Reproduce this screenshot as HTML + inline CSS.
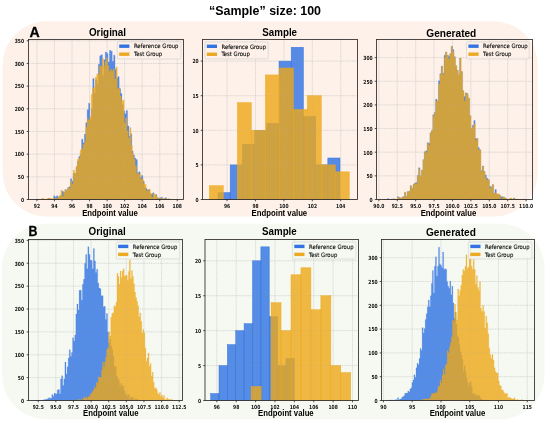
<!DOCTYPE html>
<html><head><meta charset="utf-8"><title>Sample size: 100</title>
<style>
html,body{margin:0;padding:0;background:#fff}
svg{display:block}
.tk text{font-family:"DejaVu Sans","Liberation Sans",sans-serif;font-weight:bold;font-size:5.6px;fill:#111}
.lg{font-family:"DejaVu Sans","Liberation Sans",sans-serif;font-size:6px;fill:#000;stroke:#000;stroke-width:0.1px}
.ti{font-family:"Liberation Sans",sans-serif;font-weight:bold;font-size:10.2px;fill:#000}
.xl{font-family:"Liberation Sans",sans-serif;font-weight:bold;font-size:8.2px;fill:#000}
.mt{font-family:"Liberation Sans",sans-serif;font-weight:bold;font-size:12.8px;fill:#000}
.pl{font-family:"Liberation Sans",sans-serif;font-weight:bold;font-size:14.4px;fill:#000;stroke:#000;stroke-width:0.3px}
</style></head><body>
<svg width="550" height="426" viewBox="0 0 550 426">
<rect width="550" height="426" fill="#ffffff"/>
<rect x="2.5" y="21.3" width="535.3" height="195.2" rx="44" fill="#fdf1e9"/>
<rect x="2" y="223.8" width="542.5" height="195.4" rx="44" fill="#f5f9f1"/>
<text class="mt" x="265" y="15" text-anchor="middle" textLength="112" lengthAdjust="spacingAndGlyphs">“Sample” size: 100</text>
<text class="pl" transform="translate(29.6 36.8) scale(0.97 1)" style="font-size:14.6px">A</text>
<text class="pl" transform="translate(28.6 236.3) scale(0.86 1)" style="font-size:14.4px">B</text>
<g>
<g stroke="#b9b9b9" stroke-width="0.5" stroke-dasharray="1.1 0.7" opacity="0.75">
<line x1="36.92" x2="36.92" y1="39.5" y2="199.5"/>
<line x1="54.46" x2="54.46" y1="39.5" y2="199.5"/>
<line x1="72.01" x2="72.01" y1="39.5" y2="199.5"/>
<line x1="89.55" x2="89.55" y1="39.5" y2="199.5"/>
<line x1="107.10" x2="107.10" y1="39.5" y2="199.5"/>
<line x1="124.64" x2="124.64" y1="39.5" y2="199.5"/>
<line x1="142.18" x2="142.18" y1="39.5" y2="199.5"/>
<line x1="159.73" x2="159.73" y1="39.5" y2="199.5"/>
<line x1="177.27" x2="177.27" y1="39.5" y2="199.5"/>
<line x1="28.5" x2="183.5" y1="199.50" y2="199.50"/>
<line x1="28.5" x2="183.5" y1="176.82" y2="176.82"/>
<line x1="28.5" x2="183.5" y1="154.15" y2="154.15"/>
<line x1="28.5" x2="183.5" y1="131.47" y2="131.47"/>
<line x1="28.5" x2="183.5" y1="108.80" y2="108.80"/>
<line x1="28.5" x2="183.5" y1="86.12" y2="86.12"/>
<line x1="28.5" x2="183.5" y1="63.45" y2="63.45"/>
<line x1="28.5" x2="183.5" y1="40.78" y2="40.78"/>
</g>
<path d="M36.92 199.50 L36.92 199.05 L38.32 199.05 L38.32 199.50 L39.71 199.50 L39.71 199.50 L41.11 199.50 L41.11 199.50 L42.50 199.50 L42.50 199.50 L43.89 199.50 L43.89 199.50 L45.29 199.50 L45.29 199.50 L46.68 199.50 L46.68 199.05 L48.08 199.05 L48.08 198.14 L49.47 198.14 L49.47 199.05 L50.87 199.05 L50.87 199.05 L52.26 199.05 L52.26 199.50 L53.66 199.50 L53.66 195.87 L55.05 195.87 L55.05 197.23 L56.45 197.23 L56.45 195.87 L57.84 195.87 L57.84 197.23 L59.24 197.23 L59.24 196.33 L60.63 196.33 L60.63 194.97 L62.03 194.97 L62.03 191.34 L63.42 191.34 L63.42 192.24 L64.82 192.24 L64.82 189.52 L66.21 189.52 L66.21 190.43 L67.61 190.43 L67.61 187.71 L69.00 187.71 L69.00 186.80 L70.39 186.80 L70.39 178.64 L71.79 178.64 L71.79 181.36 L73.18 181.36 L73.18 173.20 L74.58 173.20 L74.58 173.65 L75.97 173.65 L75.97 167.30 L77.37 167.30 L77.37 160.95 L78.76 160.95 L78.76 156.42 L80.16 156.42 L80.16 153.70 L81.55 153.70 L81.55 139.18 L82.95 139.18 L82.95 142.81 L84.34 142.81 L84.34 134.20 L85.74 134.20 L85.74 122.86 L87.13 122.86 L87.13 109.71 L88.53 109.71 L88.53 103.36 L89.92 103.36 L89.92 119.23 L91.32 119.23 L91.32 108.80 L92.71 108.80 L92.71 78.42 L94.11 78.42 L94.11 92.93 L95.50 92.93 L95.50 79.78 L96.89 79.78 L96.89 83.86 L98.29 83.86 L98.29 64.36 L99.68 64.36 L99.68 55.74 L101.08 55.74 L101.08 54.83 L102.47 54.83 L102.47 75.69 L103.87 75.69 L103.87 59.82 L105.26 59.82 L105.26 52.11 L106.66 52.11 L106.66 53.47 L108.05 53.47 L108.05 62.09 L109.45 62.09 L109.45 50.30 L110.84 50.30 L110.84 51.21 L112.24 51.21 L112.24 61.18 L113.63 61.18 L113.63 55.29 L115.03 55.29 L115.03 69.35 L116.42 69.35 L116.42 77.96 L117.82 77.96 L117.82 76.60 L119.21 76.60 L119.21 88.39 L120.61 88.39 L120.61 93.38 L122.00 93.38 L122.00 104.27 L123.39 104.27 L123.39 111.07 L124.79 111.07 L124.79 113.79 L126.18 113.79 L126.18 110.61 L127.58 110.61 L127.58 126.03 L128.97 126.03 L128.97 136.01 L130.37 136.01 L130.37 133.74 L131.76 133.74 L131.76 150.98 L133.16 150.98 L133.16 155.06 L134.55 155.06 L134.55 158.23 L135.95 158.23 L135.95 159.59 L137.34 159.59 L137.34 172.74 L138.74 172.74 L138.74 171.84 L140.13 171.84 L140.13 177.28 L141.53 177.28 L141.53 175.46 L142.92 175.46 L142.92 181.36 L144.32 181.36 L144.32 187.26 L145.71 187.26 L145.71 188.62 L147.11 188.62 L147.11 189.98 L148.50 189.98 L148.50 189.52 L149.89 189.52 L149.89 194.06 L151.29 194.06 L151.29 194.06 L152.68 194.06 L152.68 192.70 L154.08 192.70 L154.08 198.59 L155.47 198.59 L155.47 194.51 L156.87 194.51 L156.87 197.69 L158.26 197.69 L158.26 198.14 L159.66 198.14 L159.66 197.69 L161.05 197.69 L161.05 197.23 L162.45 197.23 L162.45 199.05 L163.84 199.05 L163.84 198.59 L165.24 198.59 L165.24 197.69 L166.63 197.69 L166.63 199.05 L168.03 199.05 L168.03 199.05 L169.42 199.05 L169.42 199.50 L170.82 199.50 L170.82 199.50 L172.21 199.50 L172.21 199.50 L173.61 199.50 L173.61 199.50 L175.00 199.50 L175.00 199.50 L176.39 199.50 L176.39 199.50 Z" fill="#2d70e2" fill-opacity="0.8" stroke="#2d70e2" stroke-opacity="0.5" stroke-width="0.35" stroke-linejoin="miter"/>
<path d="M36.04 199.50 L36.04 199.50 L37.42 199.50 L37.42 199.50 L38.80 199.50 L38.80 199.50 L40.18 199.50 L40.18 199.50 L41.55 199.50 L41.55 198.14 L42.93 198.14 L42.93 198.59 L44.31 198.59 L44.31 199.05 L45.68 199.05 L45.68 199.05 L47.06 199.05 L47.06 198.59 L48.44 198.59 L48.44 198.59 L49.82 198.59 L49.82 198.14 L51.19 198.14 L51.19 198.59 L52.57 198.59 L52.57 198.14 L53.95 198.14 L53.95 198.59 L55.32 198.59 L55.32 198.59 L56.70 198.59 L56.70 198.14 L58.08 198.14 L58.08 196.78 L59.46 196.78 L59.46 195.42 L60.83 195.42 L60.83 189.98 L62.21 189.98 L62.21 196.33 L63.59 196.33 L63.59 192.24 L64.96 192.24 L64.96 189.52 L66.34 189.52 L66.34 190.43 L67.72 190.43 L67.72 187.26 L69.10 187.26 L69.10 188.16 L70.47 188.16 L70.47 180.91 L71.85 180.91 L71.85 184.08 L73.23 184.08 L73.23 170.02 L74.61 170.02 L74.61 172.74 L75.98 172.74 L75.98 165.94 L77.36 165.94 L77.36 159.14 L78.74 159.14 L78.74 158.23 L80.11 158.23 L80.11 150.07 L81.49 150.07 L81.49 148.71 L82.87 148.71 L82.87 144.17 L84.25 144.17 L84.25 141.45 L85.62 141.45 L85.62 126.94 L87.00 126.94 L87.00 119.23 L88.38 119.23 L88.38 119.68 L89.75 119.68 L89.75 116.51 L91.13 116.51 L91.13 94.29 L92.51 94.29 L92.51 87.94 L93.89 87.94 L93.89 87.03 L95.26 87.03 L95.26 77.05 L96.64 77.05 L96.64 73.88 L98.02 73.88 L98.02 74.33 L99.39 74.33 L99.39 65.72 L100.77 65.72 L100.77 66.17 L102.15 66.17 L102.15 58.46 L103.53 58.46 L103.53 65.72 L104.90 65.72 L104.90 61.18 L106.28 61.18 L106.28 57.55 L107.66 57.55 L107.66 65.72 L109.04 65.72 L109.04 71.16 L110.41 71.16 L110.41 69.35 L111.79 69.35 L111.79 70.71 L113.17 70.71 L113.17 68.89 L114.54 68.89 L114.54 78.87 L115.92 78.87 L115.92 67.08 L117.30 67.08 L117.30 88.39 L118.68 88.39 L118.68 88.39 L120.05 88.39 L120.05 96.10 L121.43 96.10 L121.43 101.09 L122.81 101.09 L122.81 100.18 L124.18 100.18 L124.18 122.86 L125.56 122.86 L125.56 117.87 L126.94 117.87 L126.94 131.02 L128.32 131.02 L128.32 137.82 L129.69 137.82 L129.69 127.39 L131.07 127.39 L131.07 145.53 L132.45 145.53 L132.45 153.70 L133.82 153.70 L133.82 159.14 L135.20 159.14 L135.20 165.94 L136.58 165.94 L136.58 173.20 L137.96 173.20 L137.96 173.65 L139.33 173.65 L139.33 173.65 L140.71 173.65 L140.71 179.09 L142.09 179.09 L142.09 179.09 L143.46 179.09 L143.46 183.63 L144.84 183.63 L144.84 184.53 L146.22 184.53 L146.22 190.88 L147.60 190.88 L147.60 190.43 L148.97 190.43 L148.97 189.07 L150.35 189.07 L150.35 193.15 L151.73 193.15 L151.73 197.23 L153.11 197.23 L153.11 193.60 L154.48 193.60 L154.48 194.51 L155.86 194.51 L155.86 195.87 L157.24 195.87 L157.24 198.14 L158.61 198.14 L158.61 198.59 L159.99 198.59 L159.99 198.14 L161.37 198.14 L161.37 198.59 L162.75 198.59 L162.75 198.59 L164.12 198.59 L164.12 198.14 L165.50 198.14 L165.50 199.50 L166.88 199.50 L166.88 199.50 L168.25 199.50 L168.25 198.59 L169.63 198.59 L169.63 199.05 L171.01 199.05 L171.01 199.50 L172.39 199.50 L172.39 199.50 L173.76 199.50 L173.76 199.50 Z" fill="#eea718" fill-opacity="0.8" stroke="#eea718" stroke-opacity="0.5" stroke-width="0.35" stroke-linejoin="miter"/>
<g stroke="#b9b9b9" stroke-width="0.5" stroke-dasharray="1.1 0.7" opacity="0.3">
<line x1="36.92" x2="36.92" y1="39.5" y2="199.5"/>
<line x1="54.46" x2="54.46" y1="39.5" y2="199.5"/>
<line x1="72.01" x2="72.01" y1="39.5" y2="199.5"/>
<line x1="89.55" x2="89.55" y1="39.5" y2="199.5"/>
<line x1="107.10" x2="107.10" y1="39.5" y2="199.5"/>
<line x1="124.64" x2="124.64" y1="39.5" y2="199.5"/>
<line x1="142.18" x2="142.18" y1="39.5" y2="199.5"/>
<line x1="159.73" x2="159.73" y1="39.5" y2="199.5"/>
<line x1="177.27" x2="177.27" y1="39.5" y2="199.5"/>
<line x1="28.5" x2="183.5" y1="199.50" y2="199.50"/>
<line x1="28.5" x2="183.5" y1="176.82" y2="176.82"/>
<line x1="28.5" x2="183.5" y1="154.15" y2="154.15"/>
<line x1="28.5" x2="183.5" y1="131.47" y2="131.47"/>
<line x1="28.5" x2="183.5" y1="108.80" y2="108.80"/>
<line x1="28.5" x2="183.5" y1="86.12" y2="86.12"/>
<line x1="28.5" x2="183.5" y1="63.45" y2="63.45"/>
<line x1="28.5" x2="183.5" y1="40.78" y2="40.78"/>
</g>
<rect x="28.5" y="39.5" width="155.00" height="160.00" fill="none" stroke="#2e2a2a" stroke-width="0.85"/>
<g stroke="#2a2626" stroke-width="0.8">
<line x1="36.92" x2="36.92" y1="199.5" y2="201.3"/>
<line x1="54.46" x2="54.46" y1="199.5" y2="201.3"/>
<line x1="72.01" x2="72.01" y1="199.5" y2="201.3"/>
<line x1="89.55" x2="89.55" y1="199.5" y2="201.3"/>
<line x1="107.10" x2="107.10" y1="199.5" y2="201.3"/>
<line x1="124.64" x2="124.64" y1="199.5" y2="201.3"/>
<line x1="142.18" x2="142.18" y1="199.5" y2="201.3"/>
<line x1="159.73" x2="159.73" y1="199.5" y2="201.3"/>
<line x1="177.27" x2="177.27" y1="199.5" y2="201.3"/>
<line x1="26.7" x2="28.5" y1="199.50" y2="199.50"/>
<line x1="26.7" x2="28.5" y1="176.82" y2="176.82"/>
<line x1="26.7" x2="28.5" y1="154.15" y2="154.15"/>
<line x1="26.7" x2="28.5" y1="131.47" y2="131.47"/>
<line x1="26.7" x2="28.5" y1="108.80" y2="108.80"/>
<line x1="26.7" x2="28.5" y1="86.12" y2="86.12"/>
<line x1="26.7" x2="28.5" y1="63.45" y2="63.45"/>
<line x1="26.7" x2="28.5" y1="40.78" y2="40.78"/>
</g>
<g class="tk">
<text transform="translate(36.92 207.70) scale(0.8 1)" text-anchor="middle">92</text>
<text transform="translate(54.46 207.70) scale(0.8 1)" text-anchor="middle">94</text>
<text transform="translate(72.01 207.70) scale(0.8 1)" text-anchor="middle">96</text>
<text transform="translate(89.55 207.70) scale(0.8 1)" text-anchor="middle">98</text>
<text transform="translate(107.10 207.70) scale(0.8 1)" text-anchor="middle">100</text>
<text transform="translate(124.64 207.70) scale(0.8 1)" text-anchor="middle">102</text>
<text transform="translate(142.18 207.70) scale(0.8 1)" text-anchor="middle">104</text>
<text transform="translate(159.73 207.70) scale(0.8 1)" text-anchor="middle">106</text>
<text transform="translate(177.27 207.70) scale(0.8 1)" text-anchor="middle">108</text>
<text transform="translate(24.00 201.80) scale(0.8 1)" text-anchor="end">0</text>
<text transform="translate(24.00 179.12) scale(0.8 1)" text-anchor="end">50</text>
<text transform="translate(24.00 156.45) scale(0.8 1)" text-anchor="end">100</text>
<text transform="translate(24.00 133.78) scale(0.8 1)" text-anchor="end">150</text>
<text transform="translate(24.00 111.10) scale(0.8 1)" text-anchor="end">200</text>
<text transform="translate(24.00 88.42) scale(0.8 1)" text-anchor="end">250</text>
<text transform="translate(24.00 65.75) scale(0.8 1)" text-anchor="end">300</text>
<text transform="translate(24.00 43.08) scale(0.8 1)" text-anchor="end">350</text>
</g>
<rect x="117.3" y="41.8" width="63.6" height="17.2" rx="1" fill="#fdf1e9" fill-opacity="0.85" stroke="#c6c6c6" stroke-width="0.5"/>
<rect x="119.20" y="44.50" width="10.2" height="3.4" fill="#2468e0" fill-opacity="0.93"/>
<rect x="119.20" y="52.50" width="10.2" height="3.4" fill="#eba313" fill-opacity="0.93"/>
<text class="lg" transform="translate(133.90 48.45) scale(0.885 1)">Reference Group</text>
<text class="lg" transform="translate(133.90 56.35) scale(0.885 1)">Test Group</text>
<text class="ti" x="107.5" y="36.4" text-anchor="middle" textLength="37.2" lengthAdjust="spacingAndGlyphs">Original</text>
<text class="xl" x="110" y="215.6" text-anchor="middle" textLength="55.6" lengthAdjust="spacingAndGlyphs">Endpoint value</text>
</g>
<g>
<g stroke="#b9b9b9" stroke-width="0.5" stroke-dasharray="1.1 0.7" opacity="0.75">
<line x1="227.08" x2="227.08" y1="39.5" y2="199.5"/>
<line x1="255.49" x2="255.49" y1="39.5" y2="199.5"/>
<line x1="283.91" x2="283.91" y1="39.5" y2="199.5"/>
<line x1="312.32" x2="312.32" y1="39.5" y2="199.5"/>
<line x1="340.74" x2="340.74" y1="39.5" y2="199.5"/>
<line x1="202.5" x2="357.5" y1="199.50" y2="199.50"/>
<line x1="202.5" x2="357.5" y1="164.90" y2="164.90"/>
<line x1="202.5" x2="357.5" y1="130.30" y2="130.30"/>
<line x1="202.5" x2="357.5" y1="95.70" y2="95.70"/>
<line x1="202.5" x2="357.5" y1="61.10" y2="61.10"/>
</g>
<g fill="#2d70e2" fill-opacity="0.8" stroke="#2d70e2" stroke-opacity="0.9" stroke-width="0.5">
<rect x="217.99" y="192.58" width="12.20" height="6.92"/>
<rect x="230.19" y="164.90" width="12.20" height="34.60"/>
<rect x="242.39" y="144.14" width="12.20" height="55.36"/>
<rect x="254.60" y="130.30" width="12.20" height="69.20"/>
<rect x="266.80" y="123.38" width="12.20" height="76.12"/>
<rect x="279.01" y="61.10" width="12.20" height="138.40"/>
<rect x="291.21" y="47.26" width="12.20" height="152.24"/>
<rect x="303.41" y="116.46" width="12.20" height="83.04"/>
<rect x="315.62" y="164.90" width="12.20" height="34.60"/>
<rect x="327.82" y="157.98" width="12.20" height="41.52"/>
</g>
<g fill="#eea718" fill-opacity="0.8" stroke="#eea718" stroke-opacity="0.9" stroke-width="0.5">
<rect x="209.32" y="185.66" width="13.99" height="13.84"/>
<rect x="237.31" y="102.62" width="13.99" height="96.88"/>
<rect x="251.30" y="130.30" width="13.99" height="69.20"/>
<rect x="265.30" y="74.94" width="13.99" height="124.56"/>
<rect x="279.29" y="68.02" width="13.99" height="131.48"/>
<rect x="293.28" y="109.54" width="13.99" height="89.96"/>
<rect x="307.28" y="95.70" width="13.99" height="103.80"/>
<rect x="321.27" y="164.90" width="13.99" height="34.60"/>
<rect x="335.27" y="171.82" width="13.99" height="27.68"/>
</g>
<g stroke="#b9b9b9" stroke-width="0.5" stroke-dasharray="1.1 0.7" opacity="0.3">
<line x1="227.08" x2="227.08" y1="39.5" y2="199.5"/>
<line x1="255.49" x2="255.49" y1="39.5" y2="199.5"/>
<line x1="283.91" x2="283.91" y1="39.5" y2="199.5"/>
<line x1="312.32" x2="312.32" y1="39.5" y2="199.5"/>
<line x1="340.74" x2="340.74" y1="39.5" y2="199.5"/>
<line x1="202.5" x2="357.5" y1="199.50" y2="199.50"/>
<line x1="202.5" x2="357.5" y1="164.90" y2="164.90"/>
<line x1="202.5" x2="357.5" y1="130.30" y2="130.30"/>
<line x1="202.5" x2="357.5" y1="95.70" y2="95.70"/>
<line x1="202.5" x2="357.5" y1="61.10" y2="61.10"/>
</g>
<rect x="202.5" y="39.5" width="155.00" height="160.00" fill="none" stroke="#2e2a2a" stroke-width="0.85"/>
<g stroke="#2a2626" stroke-width="0.8">
<line x1="227.08" x2="227.08" y1="199.5" y2="201.3"/>
<line x1="255.49" x2="255.49" y1="199.5" y2="201.3"/>
<line x1="283.91" x2="283.91" y1="199.5" y2="201.3"/>
<line x1="312.32" x2="312.32" y1="199.5" y2="201.3"/>
<line x1="340.74" x2="340.74" y1="199.5" y2="201.3"/>
<line x1="200.7" x2="202.5" y1="199.50" y2="199.50"/>
<line x1="200.7" x2="202.5" y1="164.90" y2="164.90"/>
<line x1="200.7" x2="202.5" y1="130.30" y2="130.30"/>
<line x1="200.7" x2="202.5" y1="95.70" y2="95.70"/>
<line x1="200.7" x2="202.5" y1="61.10" y2="61.10"/>
</g>
<g class="tk">
<text transform="translate(227.08 207.70) scale(0.8 1)" text-anchor="middle">96</text>
<text transform="translate(255.49 207.70) scale(0.8 1)" text-anchor="middle">98</text>
<text transform="translate(283.91 207.70) scale(0.8 1)" text-anchor="middle">100</text>
<text transform="translate(312.32 207.70) scale(0.8 1)" text-anchor="middle">102</text>
<text transform="translate(340.74 207.70) scale(0.8 1)" text-anchor="middle">104</text>
<text transform="translate(198.70 201.80) scale(0.8 1)" text-anchor="end">0</text>
<text transform="translate(198.70 167.20) scale(0.8 1)" text-anchor="end">5</text>
<text transform="translate(198.70 132.60) scale(0.8 1)" text-anchor="end">10</text>
<text transform="translate(198.70 98.00) scale(0.8 1)" text-anchor="end">15</text>
<text transform="translate(198.70 63.40) scale(0.8 1)" text-anchor="end">20</text>
</g>
<rect x="204.9" y="41.9" width="63.3" height="17.0" rx="1" fill="#fdf1e9" fill-opacity="0.85" stroke="#c6c6c6" stroke-width="0.5"/>
<rect x="206.80" y="44.60" width="10.2" height="3.4" fill="#2468e0" fill-opacity="0.93"/>
<rect x="206.80" y="52.60" width="10.2" height="3.4" fill="#eba313" fill-opacity="0.93"/>
<text class="lg" transform="translate(221.50 48.55) scale(0.885 1)">Reference Group</text>
<text class="lg" transform="translate(221.50 56.45) scale(0.885 1)">Test Group</text>
<text class="ti" x="279.7" y="36.2" text-anchor="middle" textLength="34.7" lengthAdjust="spacingAndGlyphs">Sample</text>
<text class="xl" x="279.4" y="215.6" text-anchor="middle" textLength="55.6" lengthAdjust="spacingAndGlyphs">Endpoint value</text>
</g>
<g>
<g stroke="#b9b9b9" stroke-width="0.5" stroke-dasharray="1.1 0.7" opacity="0.75">
<line x1="378.86" x2="378.86" y1="39.5" y2="199.5"/>
<line x1="397.26" x2="397.26" y1="39.5" y2="199.5"/>
<line x1="415.67" x2="415.67" y1="39.5" y2="199.5"/>
<line x1="434.07" x2="434.07" y1="39.5" y2="199.5"/>
<line x1="452.48" x2="452.48" y1="39.5" y2="199.5"/>
<line x1="470.88" x2="470.88" y1="39.5" y2="199.5"/>
<line x1="489.29" x2="489.29" y1="39.5" y2="199.5"/>
<line x1="507.69" x2="507.69" y1="39.5" y2="199.5"/>
<line x1="526.10" x2="526.10" y1="39.5" y2="199.5"/>
<line x1="376.5" x2="532.5" y1="199.50" y2="199.50"/>
<line x1="376.5" x2="532.5" y1="175.85" y2="175.85"/>
<line x1="376.5" x2="532.5" y1="152.20" y2="152.20"/>
<line x1="376.5" x2="532.5" y1="128.55" y2="128.55"/>
<line x1="376.5" x2="532.5" y1="104.90" y2="104.90"/>
<line x1="376.5" x2="532.5" y1="81.25" y2="81.25"/>
<line x1="376.5" x2="532.5" y1="57.60" y2="57.60"/>
</g>
<path d="M383.27 199.50 L383.27 199.50 L384.69 199.50 L384.69 199.50 L386.10 199.50 L386.10 199.50 L387.51 199.50 L387.51 198.55 L388.93 198.55 L388.93 199.50 L390.34 199.50 L390.34 199.03 L391.75 199.03 L391.75 199.03 L393.17 199.03 L393.17 199.03 L394.58 199.03 L394.58 199.03 L395.99 199.03 L395.99 199.50 L397.41 199.50 L397.41 196.66 L398.82 196.66 L398.82 197.61 L400.23 197.61 L400.23 198.55 L401.65 198.55 L401.65 197.13 L403.06 197.13 L403.06 196.66 L404.48 196.66 L404.48 192.41 L405.89 192.41 L405.89 196.19 L407.30 196.19 L407.30 191.46 L408.72 191.46 L408.72 191.46 L410.13 191.46 L410.13 185.78 L411.54 185.78 L411.54 188.15 L412.96 188.15 L412.96 184.36 L414.37 184.36 L414.37 182.94 L415.78 182.94 L415.78 182.47 L417.20 182.47 L417.20 175.38 L418.61 175.38 L418.61 167.81 L420.02 167.81 L420.02 175.85 L421.44 175.85 L421.44 170.17 L422.85 170.17 L422.85 159.77 L424.26 159.77 L424.26 151.73 L425.68 151.73 L425.68 150.78 L427.09 150.78 L427.09 142.74 L428.50 142.74 L428.50 143.21 L429.92 143.21 L429.92 132.81 L431.33 132.81 L431.33 130.44 L432.75 130.44 L432.75 114.83 L434.16 114.83 L434.16 112.47 L435.57 112.47 L435.57 99.22 L436.99 99.22 L436.99 100.64 L438.40 100.64 L438.40 80.78 L439.81 80.78 L439.81 73.68 L441.23 73.68 L441.23 66.11 L442.64 66.11 L442.64 73.21 L444.05 73.21 L444.05 55.24 L445.47 55.24 L445.47 51.92 L446.88 51.92 L446.88 55.24 L448.29 55.24 L448.29 56.18 L449.71 56.18 L449.71 53.82 L451.12 53.82 L451.12 46.25 L452.53 46.25 L452.53 49.56 L453.95 49.56 L453.95 56.65 L455.36 56.65 L455.36 65.64 L456.77 65.64 L456.77 70.37 L458.19 70.37 L458.19 74.63 L459.60 74.63 L459.60 58.07 L461.02 58.07 L461.02 71.79 L462.43 71.79 L462.43 90.71 L463.84 90.71 L463.84 96.39 L465.26 96.39 L465.26 93.08 L466.67 93.08 L466.67 93.55 L468.08 93.55 L468.08 98.28 L469.50 98.28 L469.50 115.78 L470.91 115.78 L470.91 128.08 L472.32 128.08 L472.32 125.24 L473.74 125.24 L473.74 120.51 L475.15 120.51 L475.15 138.48 L476.56 138.48 L476.56 138.48 L477.98 138.48 L477.98 147.47 L479.39 147.47 L479.39 149.84 L480.80 149.84 L480.80 170.65 L482.22 170.65 L482.22 165.92 L483.63 165.92 L483.63 171.59 L485.04 171.59 L485.04 174.90 L486.46 174.90 L486.46 178.22 L487.87 178.22 L487.87 179.63 L489.29 179.63 L489.29 186.26 L490.70 186.26 L490.70 187.20 L492.11 187.20 L492.11 184.84 L493.53 184.84 L493.53 192.88 L494.94 192.88 L494.94 189.57 L496.35 189.57 L496.35 194.30 L497.77 194.30 L497.77 194.30 L499.18 194.30 L499.18 195.24 L500.59 195.24 L500.59 196.66 L502.01 196.66 L502.01 196.66 L503.42 196.66 L503.42 197.13 L504.83 197.13 L504.83 198.08 L506.25 198.08 L506.25 199.50 L507.66 199.50 L507.66 199.50 L509.07 199.50 L509.07 199.03 L510.49 199.03 L510.49 198.55 L511.90 198.55 L511.90 199.50 L513.31 199.50 L513.31 198.08 L514.73 198.08 L514.73 199.03 L516.14 199.03 L516.14 199.03 L517.56 199.03 L517.56 199.50 L518.97 199.50 L518.97 199.50 L520.38 199.50 L520.38 199.50 L521.80 199.50 L521.80 199.50 L523.21 199.50 L523.21 199.03 L524.62 199.03 L524.62 199.50 Z" fill="#2d70e2" fill-opacity="0.8" stroke="#2d70e2" stroke-opacity="0.5" stroke-width="0.35" stroke-linejoin="miter"/>
<path d="M383.42 199.50 L383.42 199.50 L384.83 199.50 L384.83 199.50 L386.25 199.50 L386.25 199.50 L387.66 199.50 L387.66 199.50 L389.07 199.50 L389.07 199.50 L390.49 199.50 L390.49 199.50 L391.90 199.50 L391.90 199.50 L393.31 199.50 L393.31 198.55 L394.73 198.55 L394.73 199.50 L396.14 199.50 L396.14 199.50 L397.56 199.50 L397.56 197.13 L398.97 197.13 L398.97 197.61 L400.38 197.61 L400.38 198.55 L401.80 198.55 L401.80 197.13 L403.21 197.13 L403.21 196.66 L404.62 196.66 L404.62 191.93 L406.04 191.93 L406.04 196.19 L407.45 196.19 L407.45 191.46 L408.86 191.46 L408.86 190.99 L410.28 190.99 L410.28 185.78 L411.69 185.78 L411.69 188.15 L413.10 188.15 L413.10 184.36 L414.52 184.36 L414.52 183.42 L415.93 183.42 L415.93 183.42 L417.34 183.42 L417.34 175.85 L418.76 175.85 L418.76 168.75 L420.17 168.75 L420.17 175.85 L421.58 175.85 L421.58 170.17 L423.00 170.17 L423.00 159.77 L424.41 159.77 L424.41 151.25 L425.83 151.25 L425.83 152.67 L427.24 152.67 L427.24 142.74 L428.65 142.74 L428.65 145.11 L430.07 145.11 L430.07 132.81 L431.48 132.81 L431.48 130.44 L432.89 130.44 L432.89 115.78 L434.31 115.78 L434.31 112.47 L435.72 112.47 L435.72 101.12 L437.13 101.12 L437.13 100.17 L438.55 100.17 L438.55 84.09 L439.96 84.09 L439.96 74.16 L441.37 74.16 L441.37 66.11 L442.79 66.11 L442.79 74.16 L444.20 74.16 L444.20 57.13 L445.61 57.13 L445.61 51.92 L447.03 51.92 L447.03 55.24 L448.44 55.24 L448.44 59.02 L449.85 59.02 L449.85 53.82 L451.27 53.82 L451.27 46.25 L452.68 46.25 L452.68 51.45 L454.10 51.45 L454.10 57.13 L455.51 57.13 L455.51 65.64 L456.92 65.64 L456.92 70.37 L458.34 70.37 L458.34 74.16 L459.75 74.16 L459.75 58.07 L461.16 58.07 L461.16 71.32 L462.58 71.32 L462.58 90.71 L463.99 90.71 L463.99 101.12 L465.40 101.12 L465.40 92.60 L466.82 92.60 L466.82 94.02 L468.23 94.02 L468.23 97.81 L469.64 97.81 L469.64 115.78 L471.06 115.78 L471.06 128.08 L472.47 128.08 L472.47 126.66 L473.88 126.66 L473.88 123.82 L475.30 123.82 L475.30 140.38 L476.71 140.38 L476.71 138.48 L478.12 138.48 L478.12 149.84 L479.54 149.84 L479.54 149.84 L480.95 149.84 L480.95 171.59 L482.37 171.59 L482.37 166.39 L483.78 166.39 L483.78 171.59 L485.19 171.59 L485.19 177.74 L486.61 177.74 L486.61 180.11 L488.02 180.11 L488.02 179.63 L489.43 179.63 L489.43 188.15 L490.85 188.15 L490.85 187.20 L492.26 187.20 L492.26 184.36 L493.67 184.36 L493.67 193.35 L495.09 193.35 L495.09 192.88 L496.50 192.88 L496.50 193.82 L497.91 193.82 L497.91 193.82 L499.33 193.82 L499.33 195.24 L500.74 195.24 L500.74 199.03 L502.15 199.03 L502.15 197.13 L503.57 197.13 L503.57 197.13 L504.98 197.13 L504.98 198.08 L506.39 198.08 L506.39 199.50 L507.81 199.50 L507.81 199.50 L509.22 199.50 L509.22 198.55 L510.63 198.55 L510.63 198.08 L512.05 198.08 L512.05 199.50 L513.46 199.50 L513.46 198.08 L514.88 198.08 L514.88 199.03 L516.29 199.03 L516.29 199.50 L517.70 199.50 L517.70 199.50 L519.12 199.50 L519.12 199.50 L520.53 199.50 L520.53 199.50 L521.94 199.50 L521.94 199.50 L523.36 199.50 L523.36 199.03 L524.77 199.03 L524.77 199.50 Z" fill="#eea718" fill-opacity="0.8" stroke="#eea718" stroke-opacity="0.5" stroke-width="0.35" stroke-linejoin="miter"/>
<g stroke="#b9b9b9" stroke-width="0.5" stroke-dasharray="1.1 0.7" opacity="0.3">
<line x1="378.86" x2="378.86" y1="39.5" y2="199.5"/>
<line x1="397.26" x2="397.26" y1="39.5" y2="199.5"/>
<line x1="415.67" x2="415.67" y1="39.5" y2="199.5"/>
<line x1="434.07" x2="434.07" y1="39.5" y2="199.5"/>
<line x1="452.48" x2="452.48" y1="39.5" y2="199.5"/>
<line x1="470.88" x2="470.88" y1="39.5" y2="199.5"/>
<line x1="489.29" x2="489.29" y1="39.5" y2="199.5"/>
<line x1="507.69" x2="507.69" y1="39.5" y2="199.5"/>
<line x1="526.10" x2="526.10" y1="39.5" y2="199.5"/>
<line x1="376.5" x2="532.5" y1="199.50" y2="199.50"/>
<line x1="376.5" x2="532.5" y1="175.85" y2="175.85"/>
<line x1="376.5" x2="532.5" y1="152.20" y2="152.20"/>
<line x1="376.5" x2="532.5" y1="128.55" y2="128.55"/>
<line x1="376.5" x2="532.5" y1="104.90" y2="104.90"/>
<line x1="376.5" x2="532.5" y1="81.25" y2="81.25"/>
<line x1="376.5" x2="532.5" y1="57.60" y2="57.60"/>
</g>
<rect x="376.5" y="39.5" width="156.00" height="160.00" fill="none" stroke="#2e2a2a" stroke-width="0.85"/>
<g stroke="#2a2626" stroke-width="0.8">
<line x1="378.86" x2="378.86" y1="199.5" y2="201.3"/>
<line x1="397.26" x2="397.26" y1="199.5" y2="201.3"/>
<line x1="415.67" x2="415.67" y1="199.5" y2="201.3"/>
<line x1="434.07" x2="434.07" y1="199.5" y2="201.3"/>
<line x1="452.48" x2="452.48" y1="199.5" y2="201.3"/>
<line x1="470.88" x2="470.88" y1="199.5" y2="201.3"/>
<line x1="489.29" x2="489.29" y1="199.5" y2="201.3"/>
<line x1="507.69" x2="507.69" y1="199.5" y2="201.3"/>
<line x1="526.10" x2="526.10" y1="199.5" y2="201.3"/>
<line x1="374.7" x2="376.5" y1="199.50" y2="199.50"/>
<line x1="374.7" x2="376.5" y1="175.85" y2="175.85"/>
<line x1="374.7" x2="376.5" y1="152.20" y2="152.20"/>
<line x1="374.7" x2="376.5" y1="128.55" y2="128.55"/>
<line x1="374.7" x2="376.5" y1="104.90" y2="104.90"/>
<line x1="374.7" x2="376.5" y1="81.25" y2="81.25"/>
<line x1="374.7" x2="376.5" y1="57.60" y2="57.60"/>
</g>
<g class="tk">
<text transform="translate(378.86 207.70) scale(0.8 1)" text-anchor="middle">90.0</text>
<text transform="translate(397.26 207.70) scale(0.8 1)" text-anchor="middle">92.5</text>
<text transform="translate(415.67 207.70) scale(0.8 1)" text-anchor="middle">95.0</text>
<text transform="translate(434.07 207.70) scale(0.8 1)" text-anchor="middle">97.5</text>
<text transform="translate(452.48 207.70) scale(0.8 1)" text-anchor="middle">100.0</text>
<text transform="translate(470.88 207.70) scale(0.8 1)" text-anchor="middle">102.5</text>
<text transform="translate(489.29 207.70) scale(0.8 1)" text-anchor="middle">105.0</text>
<text transform="translate(507.69 207.70) scale(0.8 1)" text-anchor="middle">107.5</text>
<text transform="translate(526.10 207.70) scale(0.8 1)" text-anchor="middle">110.0</text>
<text transform="translate(372.70 201.80) scale(0.8 1)" text-anchor="end">0</text>
<text transform="translate(372.70 178.15) scale(0.8 1)" text-anchor="end">50</text>
<text transform="translate(372.70 154.50) scale(0.8 1)" text-anchor="end">100</text>
<text transform="translate(372.70 130.85) scale(0.8 1)" text-anchor="end">150</text>
<text transform="translate(372.70 107.20) scale(0.8 1)" text-anchor="end">200</text>
<text transform="translate(372.70 83.55) scale(0.8 1)" text-anchor="end">250</text>
<text transform="translate(372.70 59.90) scale(0.8 1)" text-anchor="end">300</text>
</g>
<rect x="466.5" y="41.8" width="62.7" height="17.2" rx="1" fill="#fdf1e9" fill-opacity="0.85" stroke="#c6c6c6" stroke-width="0.5"/>
<rect x="468.40" y="44.50" width="10.2" height="3.4" fill="#2468e0" fill-opacity="0.93"/>
<rect x="468.40" y="52.50" width="10.2" height="3.4" fill="#eba313" fill-opacity="0.93"/>
<text class="lg" transform="translate(483.10 48.45) scale(0.885 1)">Reference Group</text>
<text class="lg" transform="translate(483.10 56.35) scale(0.885 1)">Test Group</text>
<text class="ti" x="451.3" y="36.8" text-anchor="middle" textLength="50" lengthAdjust="spacingAndGlyphs">Generated</text>
<text class="xl" x="448.5" y="215.6" text-anchor="middle" textLength="55.6" lengthAdjust="spacingAndGlyphs">Endpoint value</text>
</g>
<g>
<g stroke="#b9b9b9" stroke-width="0.5" stroke-dasharray="1.1 0.7" opacity="0.75">
<line x1="38.23" x2="38.23" y1="239.5" y2="400.5"/>
<line x1="55.85" x2="55.85" y1="239.5" y2="400.5"/>
<line x1="73.47" x2="73.47" y1="239.5" y2="400.5"/>
<line x1="91.09" x2="91.09" y1="239.5" y2="400.5"/>
<line x1="108.71" x2="108.71" y1="239.5" y2="400.5"/>
<line x1="126.33" x2="126.33" y1="239.5" y2="400.5"/>
<line x1="143.95" x2="143.95" y1="239.5" y2="400.5"/>
<line x1="161.57" x2="161.57" y1="239.5" y2="400.5"/>
<line x1="179.19" x2="179.19" y1="239.5" y2="400.5"/>
<line x1="28.5" x2="182.5" y1="400.50" y2="400.50"/>
<line x1="28.5" x2="182.5" y1="377.62" y2="377.62"/>
<line x1="28.5" x2="182.5" y1="354.75" y2="354.75"/>
<line x1="28.5" x2="182.5" y1="331.88" y2="331.88"/>
<line x1="28.5" x2="182.5" y1="309.00" y2="309.00"/>
<line x1="28.5" x2="182.5" y1="286.12" y2="286.12"/>
<line x1="28.5" x2="182.5" y1="263.25" y2="263.25"/>
<line x1="28.5" x2="182.5" y1="240.38" y2="240.38"/>
</g>
<path d="M35.41 400.50 L35.41 400.50 L36.50 400.50 L36.50 400.50 L37.59 400.50 L37.59 400.04 L38.68 400.04 L38.68 400.50 L39.78 400.50 L39.78 400.50 L40.87 400.50 L40.87 400.50 L41.96 400.50 L41.96 400.04 L43.05 400.04 L43.05 400.04 L44.15 400.04 L44.15 399.58 L45.24 399.58 L45.24 399.58 L46.33 399.58 L46.33 399.13 L47.42 399.13 L47.42 398.67 L48.52 398.67 L48.52 397.75 L49.61 397.75 L49.61 398.21 L50.70 398.21 L50.70 398.21 L51.79 398.21 L51.79 394.55 L52.89 394.55 L52.89 396.38 L53.98 396.38 L53.98 393.18 L55.07 393.18 L55.07 393.64 L56.16 393.64 L56.16 394.10 L57.26 394.10 L57.26 389.98 L58.35 389.98 L58.35 389.52 L59.44 389.52 L59.44 393.64 L60.53 393.64 L60.53 379.00 L61.63 379.00 L61.63 375.80 L62.72 375.80 L62.72 385.40 L63.81 385.40 L63.81 379.00 L64.90 379.00 L64.90 362.07 L66.00 362.07 L66.00 373.96 L67.09 373.96 L67.09 366.64 L68.18 366.64 L68.18 357.95 L69.27 357.95 L69.27 349.72 L70.37 349.72 L70.37 356.58 L71.46 356.58 L71.46 352.46 L72.55 352.46 L72.55 337.82 L73.64 337.82 L73.64 341.02 L74.74 341.02 L74.74 335.08 L75.83 335.08 L75.83 314.03 L76.92 314.03 L76.92 303.97 L78.01 303.97 L78.01 309.91 L79.11 309.91 L79.11 290.24 L80.20 290.24 L80.20 290.24 L81.29 290.24 L81.29 300.31 L82.38 300.31 L82.38 284.30 L83.47 284.30 L83.47 279.26 L84.57 279.26 L84.57 263.25 L85.66 263.25 L85.66 254.56 L86.75 254.56 L86.75 268.74 L87.84 268.74 L87.84 246.78 L88.94 246.78 L88.94 254.56 L90.03 254.56 L90.03 260.05 L91.12 260.05 L91.12 260.50 L92.21 260.50 L92.21 268.74 L93.31 268.74 L93.31 248.61 L94.40 248.61 L94.40 260.96 L95.49 260.96 L95.49 272.40 L96.58 272.40 L96.58 269.20 L97.68 269.20 L97.68 282.92 L98.77 282.92 L98.77 287.95 L99.86 287.95 L99.86 288.87 L100.95 288.87 L100.95 295.73 L102.05 295.73 L102.05 295.73 L103.14 295.73 L103.14 306.71 L104.23 306.71 L104.23 306.25 L105.32 306.25 L105.32 319.52 L106.42 319.52 L106.42 313.57 L107.51 313.57 L107.51 331.88 L108.60 331.88 L108.60 342.86 L109.69 342.86 L109.69 339.19 L110.79 339.19 L110.79 346.06 L111.88 346.06 L111.88 349.72 L112.97 349.72 L112.97 356.58 L114.06 356.58 L114.06 366.64 L115.16 366.64 L115.16 366.19 L116.25 366.19 L116.25 375.80 L117.34 375.80 L117.34 378.54 L118.43 378.54 L118.43 380.37 L119.53 380.37 L119.53 386.32 L120.62 386.32 L120.62 383.57 L121.71 383.57 L121.71 386.32 L122.80 386.32 L122.80 385.86 L123.90 385.86 L123.90 390.44 L124.99 390.44 L124.99 394.55 L126.08 394.55 L126.08 393.64 L127.17 393.64 L127.17 396.38 L128.27 396.38 L128.27 394.55 L129.36 394.55 L129.36 399.58 L130.45 399.58 L130.45 396.84 L131.54 396.84 L131.54 397.75 L132.64 397.75 L132.64 397.30 L133.73 397.30 L133.73 400.04 L134.82 400.04 L134.82 398.67 L135.91 398.67 L135.91 399.13 L137.00 399.13 L137.00 399.58 L138.10 399.58 L138.10 400.04 L139.19 400.04 L139.19 400.04 L140.28 400.04 L140.28 400.50 L141.37 400.50 L141.37 400.50 L142.47 400.50 L142.47 400.50 L143.56 400.50 L143.56 400.50 L144.65 400.50 L144.65 400.50 Z" fill="#2d70e2" fill-opacity="0.8" stroke="#2d70e2" stroke-opacity="0.5" stroke-width="0.35" stroke-linejoin="miter"/>
<path d="M71.35 400.50 L71.35 400.50 L72.39 400.50 L72.39 400.04 L73.42 400.04 L73.42 400.50 L74.46 400.50 L74.46 400.50 L75.50 400.50 L75.50 400.04 L76.53 400.04 L76.53 400.04 L77.57 400.04 L77.57 400.04 L78.60 400.04 L78.60 399.13 L79.64 399.13 L79.64 400.50 L80.68 400.50 L80.68 399.58 L81.71 399.58 L81.71 400.50 L82.75 400.50 L82.75 398.67 L83.78 398.67 L83.78 396.84 L84.82 396.84 L84.82 398.21 L85.86 398.21 L85.86 396.84 L86.89 396.84 L86.89 398.67 L87.93 398.67 L87.93 396.38 L88.97 396.38 L88.97 396.84 L90.00 396.84 L90.00 393.64 L91.04 393.64 L91.04 393.64 L92.07 393.64 L92.07 391.81 L93.11 391.81 L93.11 389.98 L94.15 389.98 L94.15 386.77 L95.18 386.77 L95.18 388.15 L96.22 388.15 L96.22 382.20 L97.25 382.20 L97.25 383.12 L98.29 383.12 L98.29 376.71 L99.33 376.71 L99.33 377.17 L100.36 377.17 L100.36 377.62 L101.40 377.62 L101.40 369.85 L102.43 369.85 L102.43 362.07 L103.47 362.07 L103.47 366.64 L104.51 366.64 L104.51 362.07 L105.54 362.07 L105.54 357.04 L106.58 357.04 L106.58 349.26 L107.61 349.26 L107.61 347.89 L108.65 347.89 L108.65 331.88 L109.69 331.88 L109.69 335.99 L110.72 335.99 L110.72 317.24 L111.76 317.24 L111.76 313.57 L112.79 313.57 L112.79 312.66 L113.83 312.66 L113.83 305.80 L114.87 305.80 L114.87 306.71 L115.90 306.71 L115.90 302.14 L116.94 302.14 L116.94 273.31 L117.98 273.31 L117.98 276.52 L119.01 276.52 L119.01 284.30 L120.05 284.30 L120.05 271.03 L121.08 271.03 L121.08 277.43 L122.12 277.43 L122.12 271.03 L123.16 271.03 L123.16 268.74 L124.19 268.74 L124.19 276.06 L125.23 276.06 L125.23 275.60 L126.26 275.60 L126.26 275.14 L127.30 275.14 L127.30 280.18 L128.34 280.18 L128.34 271.49 L129.37 271.49 L129.37 260.05 L130.41 260.05 L130.41 278.81 L131.44 278.81 L131.44 270.57 L132.48 270.57 L132.48 276.52 L133.52 276.52 L133.52 283.84 L134.55 283.84 L134.55 292.07 L135.59 292.07 L135.59 297.56 L136.62 297.56 L136.62 301.22 L137.66 301.22 L137.66 305.80 L138.70 305.80 L138.70 316.78 L139.73 316.78 L139.73 313.12 L140.77 313.12 L140.77 321.35 L141.80 321.35 L141.80 333.25 L142.84 333.25 L142.84 329.59 L143.88 329.59 L143.88 332.79 L144.91 332.79 L144.91 347.89 L145.95 347.89 L145.95 361.15 L146.98 361.15 L146.98 357.95 L148.02 357.95 L148.02 352.92 L149.06 352.92 L149.06 366.19 L150.09 366.19 L150.09 363.44 L151.13 363.44 L151.13 376.25 L152.17 376.25 L152.17 372.13 L153.20 372.13 L153.20 382.20 L154.24 382.20 L154.24 388.15 L155.27 388.15 L155.27 387.69 L156.31 387.69 L156.31 389.52 L157.35 389.52 L157.35 393.18 L158.38 393.18 L158.38 394.55 L159.42 394.55 L159.42 392.26 L160.45 392.26 L160.45 396.84 L161.49 396.84 L161.49 395.01 L162.53 395.01 L162.53 397.75 L163.56 397.75 L163.56 395.47 L164.60 395.47 L164.60 399.58 L165.63 399.58 L165.63 399.58 L166.67 399.58 L166.67 397.75 L167.71 397.75 L167.71 399.13 L168.74 399.13 L168.74 399.13 L169.78 399.13 L169.78 400.04 L170.81 400.04 L170.81 399.13 L171.85 399.13 L171.85 400.50 L172.89 400.50 L172.89 400.04 L173.92 400.04 L173.92 400.50 L174.96 400.50 L174.96 400.50 Z" fill="#eea718" fill-opacity="0.8" stroke="#eea718" stroke-opacity="0.5" stroke-width="0.35" stroke-linejoin="miter"/>
<g stroke="#b9b9b9" stroke-width="0.5" stroke-dasharray="1.1 0.7" opacity="0.3">
<line x1="38.23" x2="38.23" y1="239.5" y2="400.5"/>
<line x1="55.85" x2="55.85" y1="239.5" y2="400.5"/>
<line x1="73.47" x2="73.47" y1="239.5" y2="400.5"/>
<line x1="91.09" x2="91.09" y1="239.5" y2="400.5"/>
<line x1="108.71" x2="108.71" y1="239.5" y2="400.5"/>
<line x1="126.33" x2="126.33" y1="239.5" y2="400.5"/>
<line x1="143.95" x2="143.95" y1="239.5" y2="400.5"/>
<line x1="161.57" x2="161.57" y1="239.5" y2="400.5"/>
<line x1="179.19" x2="179.19" y1="239.5" y2="400.5"/>
<line x1="28.5" x2="182.5" y1="400.50" y2="400.50"/>
<line x1="28.5" x2="182.5" y1="377.62" y2="377.62"/>
<line x1="28.5" x2="182.5" y1="354.75" y2="354.75"/>
<line x1="28.5" x2="182.5" y1="331.88" y2="331.88"/>
<line x1="28.5" x2="182.5" y1="309.00" y2="309.00"/>
<line x1="28.5" x2="182.5" y1="286.12" y2="286.12"/>
<line x1="28.5" x2="182.5" y1="263.25" y2="263.25"/>
<line x1="28.5" x2="182.5" y1="240.38" y2="240.38"/>
</g>
<rect x="28.5" y="239.5" width="154.00" height="161.00" fill="none" stroke="#2e2a2a" stroke-width="0.85"/>
<g stroke="#2a2626" stroke-width="0.8">
<line x1="38.23" x2="38.23" y1="400.5" y2="402.3"/>
<line x1="55.85" x2="55.85" y1="400.5" y2="402.3"/>
<line x1="73.47" x2="73.47" y1="400.5" y2="402.3"/>
<line x1="91.09" x2="91.09" y1="400.5" y2="402.3"/>
<line x1="108.71" x2="108.71" y1="400.5" y2="402.3"/>
<line x1="126.33" x2="126.33" y1="400.5" y2="402.3"/>
<line x1="143.95" x2="143.95" y1="400.5" y2="402.3"/>
<line x1="161.57" x2="161.57" y1="400.5" y2="402.3"/>
<line x1="179.19" x2="179.19" y1="400.5" y2="402.3"/>
<line x1="26.7" x2="28.5" y1="400.50" y2="400.50"/>
<line x1="26.7" x2="28.5" y1="377.62" y2="377.62"/>
<line x1="26.7" x2="28.5" y1="354.75" y2="354.75"/>
<line x1="26.7" x2="28.5" y1="331.88" y2="331.88"/>
<line x1="26.7" x2="28.5" y1="309.00" y2="309.00"/>
<line x1="26.7" x2="28.5" y1="286.12" y2="286.12"/>
<line x1="26.7" x2="28.5" y1="263.25" y2="263.25"/>
<line x1="26.7" x2="28.5" y1="240.38" y2="240.38"/>
</g>
<g class="tk">
<text transform="translate(38.23 408.70) scale(0.8 1)" text-anchor="middle">92.5</text>
<text transform="translate(55.85 408.70) scale(0.8 1)" text-anchor="middle">95.0</text>
<text transform="translate(73.47 408.70) scale(0.8 1)" text-anchor="middle">97.5</text>
<text transform="translate(91.09 408.70) scale(0.8 1)" text-anchor="middle">100.0</text>
<text transform="translate(108.71 408.70) scale(0.8 1)" text-anchor="middle">102.5</text>
<text transform="translate(126.33 408.70) scale(0.8 1)" text-anchor="middle">105.0</text>
<text transform="translate(143.95 408.70) scale(0.8 1)" text-anchor="middle">107.5</text>
<text transform="translate(161.57 408.70) scale(0.8 1)" text-anchor="middle">110.0</text>
<text transform="translate(179.19 408.70) scale(0.8 1)" text-anchor="middle">112.5</text>
<text transform="translate(24.00 402.80) scale(0.8 1)" text-anchor="end">0</text>
<text transform="translate(24.00 379.93) scale(0.8 1)" text-anchor="end">50</text>
<text transform="translate(24.00 357.05) scale(0.8 1)" text-anchor="end">100</text>
<text transform="translate(24.00 334.18) scale(0.8 1)" text-anchor="end">150</text>
<text transform="translate(24.00 311.30) scale(0.8 1)" text-anchor="end">200</text>
<text transform="translate(24.00 288.43) scale(0.8 1)" text-anchor="end">250</text>
<text transform="translate(24.00 265.55) scale(0.8 1)" text-anchor="end">300</text>
<text transform="translate(24.00 242.68) scale(0.8 1)" text-anchor="end">350</text>
</g>
<rect x="116.2" y="242.0" width="63.6" height="17.0" rx="1" fill="#f5f9f1" fill-opacity="0.85" stroke="#c6c6c6" stroke-width="0.5"/>
<rect x="118.10" y="244.70" width="10.2" height="3.4" fill="#2468e0" fill-opacity="0.93"/>
<rect x="118.10" y="252.70" width="10.2" height="3.4" fill="#eba313" fill-opacity="0.93"/>
<text class="lg" transform="translate(132.80 248.65) scale(0.885 1)">Reference Group</text>
<text class="lg" transform="translate(132.80 256.55) scale(0.885 1)">Test Group</text>
<text class="ti" x="107.1" y="235.4" text-anchor="middle" textLength="37.2" lengthAdjust="spacingAndGlyphs">Original</text>
<text class="xl" x="110.8" y="416" text-anchor="middle" textLength="55.6" lengthAdjust="spacingAndGlyphs">Endpoint value</text>
</g>
<g>
<g stroke="#b9b9b9" stroke-width="0.5" stroke-dasharray="1.1 0.7" opacity="0.75">
<line x1="216.82" x2="216.82" y1="239.5" y2="400.5"/>
<line x1="236.20" x2="236.20" y1="239.5" y2="400.5"/>
<line x1="255.59" x2="255.59" y1="239.5" y2="400.5"/>
<line x1="274.97" x2="274.97" y1="239.5" y2="400.5"/>
<line x1="294.35" x2="294.35" y1="239.5" y2="400.5"/>
<line x1="313.73" x2="313.73" y1="239.5" y2="400.5"/>
<line x1="333.11" x2="333.11" y1="239.5" y2="400.5"/>
<line x1="352.49" x2="352.49" y1="239.5" y2="400.5"/>
<line x1="205.0" x2="358.5" y1="400.50" y2="400.50"/>
<line x1="205.0" x2="358.5" y1="365.57" y2="365.57"/>
<line x1="205.0" x2="358.5" y1="330.65" y2="330.65"/>
<line x1="205.0" x2="358.5" y1="295.73" y2="295.73"/>
<line x1="205.0" x2="358.5" y1="260.80" y2="260.80"/>
</g>
<g fill="#2d70e2" fill-opacity="0.8" stroke="#2d70e2" stroke-opacity="0.9" stroke-width="0.5">
<rect x="210.62" y="393.51" width="8.37" height="6.99"/>
<rect x="218.99" y="365.57" width="8.37" height="34.93"/>
<rect x="227.37" y="344.62" width="8.37" height="55.88"/>
<rect x="235.74" y="330.65" width="8.37" height="69.85"/>
<rect x="244.11" y="323.66" width="8.37" height="76.84"/>
<rect x="252.48" y="260.80" width="8.37" height="139.70"/>
<rect x="260.86" y="246.83" width="8.37" height="153.67"/>
<rect x="269.23" y="316.68" width="8.37" height="83.82"/>
<rect x="277.60" y="365.57" width="8.37" height="34.93"/>
<rect x="285.98" y="358.59" width="8.37" height="41.91"/>
</g>
<g fill="#eea718" fill-opacity="0.8" stroke="#eea718" stroke-opacity="0.9" stroke-width="0.5">
<rect x="251.13" y="386.53" width="9.96" height="13.97"/>
<rect x="271.05" y="302.71" width="9.96" height="97.79"/>
<rect x="281.01" y="330.65" width="9.96" height="69.85"/>
<rect x="290.98" y="274.77" width="9.96" height="125.73"/>
<rect x="300.94" y="267.78" width="9.96" height="132.72"/>
<rect x="310.90" y="309.69" width="9.96" height="90.81"/>
<rect x="320.86" y="295.73" width="9.96" height="104.77"/>
<rect x="330.82" y="365.57" width="9.96" height="34.93"/>
<rect x="340.79" y="372.56" width="9.96" height="27.94"/>
</g>
<g stroke="#b9b9b9" stroke-width="0.5" stroke-dasharray="1.1 0.7" opacity="0.3">
<line x1="216.82" x2="216.82" y1="239.5" y2="400.5"/>
<line x1="236.20" x2="236.20" y1="239.5" y2="400.5"/>
<line x1="255.59" x2="255.59" y1="239.5" y2="400.5"/>
<line x1="274.97" x2="274.97" y1="239.5" y2="400.5"/>
<line x1="294.35" x2="294.35" y1="239.5" y2="400.5"/>
<line x1="313.73" x2="313.73" y1="239.5" y2="400.5"/>
<line x1="333.11" x2="333.11" y1="239.5" y2="400.5"/>
<line x1="352.49" x2="352.49" y1="239.5" y2="400.5"/>
<line x1="205.0" x2="358.5" y1="400.50" y2="400.50"/>
<line x1="205.0" x2="358.5" y1="365.57" y2="365.57"/>
<line x1="205.0" x2="358.5" y1="330.65" y2="330.65"/>
<line x1="205.0" x2="358.5" y1="295.73" y2="295.73"/>
<line x1="205.0" x2="358.5" y1="260.80" y2="260.80"/>
</g>
<rect x="205.0" y="239.5" width="153.50" height="161.00" fill="none" stroke="#2e2a2a" stroke-width="0.85"/>
<g stroke="#2a2626" stroke-width="0.8">
<line x1="216.82" x2="216.82" y1="400.5" y2="402.3"/>
<line x1="236.20" x2="236.20" y1="400.5" y2="402.3"/>
<line x1="255.59" x2="255.59" y1="400.5" y2="402.3"/>
<line x1="274.97" x2="274.97" y1="400.5" y2="402.3"/>
<line x1="294.35" x2="294.35" y1="400.5" y2="402.3"/>
<line x1="313.73" x2="313.73" y1="400.5" y2="402.3"/>
<line x1="333.11" x2="333.11" y1="400.5" y2="402.3"/>
<line x1="352.49" x2="352.49" y1="400.5" y2="402.3"/>
<line x1="203.2" x2="205.0" y1="400.50" y2="400.50"/>
<line x1="203.2" x2="205.0" y1="365.57" y2="365.57"/>
<line x1="203.2" x2="205.0" y1="330.65" y2="330.65"/>
<line x1="203.2" x2="205.0" y1="295.73" y2="295.73"/>
<line x1="203.2" x2="205.0" y1="260.80" y2="260.80"/>
</g>
<g class="tk">
<text transform="translate(216.82 408.70) scale(0.8 1)" text-anchor="middle">96</text>
<text transform="translate(236.20 408.70) scale(0.8 1)" text-anchor="middle">98</text>
<text transform="translate(255.59 408.70) scale(0.8 1)" text-anchor="middle">100</text>
<text transform="translate(274.97 408.70) scale(0.8 1)" text-anchor="middle">102</text>
<text transform="translate(294.35 408.70) scale(0.8 1)" text-anchor="middle">104</text>
<text transform="translate(313.73 408.70) scale(0.8 1)" text-anchor="middle">106</text>
<text transform="translate(333.11 408.70) scale(0.8 1)" text-anchor="middle">108</text>
<text transform="translate(352.49 408.70) scale(0.8 1)" text-anchor="middle">110</text>
<text transform="translate(201.20 402.80) scale(0.8 1)" text-anchor="end">0</text>
<text transform="translate(201.20 367.88) scale(0.8 1)" text-anchor="end">5</text>
<text transform="translate(201.20 332.95) scale(0.8 1)" text-anchor="end">10</text>
<text transform="translate(201.20 298.03) scale(0.8 1)" text-anchor="end">15</text>
<text transform="translate(201.20 263.10) scale(0.8 1)" text-anchor="end">20</text>
</g>
<rect x="292.4" y="242.0" width="63.5" height="17.0" rx="1" fill="#f5f9f1" fill-opacity="0.85" stroke="#c6c6c6" stroke-width="0.5"/>
<rect x="294.30" y="244.70" width="10.2" height="3.4" fill="#2468e0" fill-opacity="0.93"/>
<rect x="294.30" y="252.70" width="10.2" height="3.4" fill="#eba313" fill-opacity="0.93"/>
<text class="lg" transform="translate(309.00 248.65) scale(0.885 1)">Reference Group</text>
<text class="lg" transform="translate(309.00 256.55) scale(0.885 1)">Test Group</text>
<text class="ti" x="279.4" y="235.1" text-anchor="middle" textLength="34.7" lengthAdjust="spacingAndGlyphs">Sample</text>
<text class="xl" x="285.9" y="416" text-anchor="middle" textLength="55.6" lengthAdjust="spacingAndGlyphs">Endpoint value</text>
</g>
<g>
<g stroke="#b9b9b9" stroke-width="0.5" stroke-dasharray="1.1 0.7" opacity="0.75">
<line x1="383.40" x2="383.40" y1="239.5" y2="400.5"/>
<line x1="412.17" x2="412.17" y1="239.5" y2="400.5"/>
<line x1="440.94" x2="440.94" y1="239.5" y2="400.5"/>
<line x1="469.71" x2="469.71" y1="239.5" y2="400.5"/>
<line x1="498.48" x2="498.48" y1="239.5" y2="400.5"/>
<line x1="527.25" x2="527.25" y1="239.5" y2="400.5"/>
<line x1="381.5" x2="534.5" y1="400.50" y2="400.50"/>
<line x1="381.5" x2="534.5" y1="376.70" y2="376.70"/>
<line x1="381.5" x2="534.5" y1="352.90" y2="352.90"/>
<line x1="381.5" x2="534.5" y1="329.10" y2="329.10"/>
<line x1="381.5" x2="534.5" y1="305.30" y2="305.30"/>
<line x1="381.5" x2="534.5" y1="281.50" y2="281.50"/>
<line x1="381.5" x2="534.5" y1="257.70" y2="257.70"/>
</g>
<path d="M386.28 400.50 L386.28 400.50 L387.30 400.50 L387.30 400.50 L388.32 400.50 L388.32 400.50 L389.35 400.50 L389.35 400.02 L390.37 400.02 L390.37 400.02 L391.40 400.02 L391.40 400.02 L392.42 400.02 L392.42 400.02 L393.45 400.02 L393.45 400.02 L394.47 400.02 L394.47 400.02 L395.49 400.02 L395.49 399.55 L396.52 399.55 L396.52 400.02 L397.54 400.02 L397.54 397.64 L398.57 397.64 L398.57 400.50 L399.59 400.50 L399.59 399.07 L400.61 399.07 L400.61 399.07 L401.64 399.07 L401.64 397.17 L402.66 397.17 L402.66 396.69 L403.69 396.69 L403.69 395.74 L404.71 395.74 L404.71 393.36 L405.74 393.36 L405.74 393.36 L406.76 393.36 L406.76 392.88 L407.78 392.88 L407.78 390.98 L408.81 390.98 L408.81 391.93 L409.83 391.93 L409.83 389.08 L410.86 389.08 L410.86 387.65 L411.88 387.65 L411.88 382.41 L412.91 382.41 L412.91 380.03 L413.93 380.03 L413.93 374.80 L414.95 374.80 L414.95 377.18 L415.98 377.18 L415.98 367.66 L417.00 367.66 L417.00 363.37 L418.03 363.37 L418.03 364.80 L419.05 364.80 L419.05 358.61 L420.08 358.61 L420.08 348.62 L421.10 348.62 L421.10 350.52 L422.12 350.52 L422.12 327.67 L423.15 327.67 L423.15 332.91 L424.17 332.91 L424.17 328.62 L425.20 328.62 L425.20 319.58 L426.22 319.58 L426.22 313.87 L427.24 313.87 L427.24 306.73 L428.27 306.73 L428.27 300.06 L429.29 300.06 L429.29 306.73 L430.32 306.73 L430.32 295.78 L431.34 295.78 L431.34 283.40 L432.37 283.40 L432.37 270.55 L433.39 270.55 L433.39 292.92 L434.41 292.92 L434.41 266.27 L435.44 266.27 L435.44 256.75 L436.46 256.75 L436.46 276.26 L437.49 276.26 L437.49 266.27 L438.51 266.27 L438.51 247.23 L439.54 247.23 L439.54 264.36 L440.56 264.36 L440.56 265.32 L441.58 265.32 L441.58 267.70 L442.61 267.70 L442.61 251.99 L443.63 251.99 L443.63 269.60 L444.66 269.60 L444.66 268.65 L445.68 268.65 L445.68 269.60 L446.70 269.60 L446.70 281.50 L447.73 281.50 L447.73 286.26 L448.75 286.26 L448.75 288.16 L449.78 288.16 L449.78 281.02 L450.80 281.02 L450.80 294.83 L451.83 294.83 L451.83 286.26 L452.85 286.26 L452.85 302.92 L453.87 302.92 L453.87 318.15 L454.90 318.15 L454.90 311.96 L455.92 311.96 L455.92 324.34 L456.95 324.34 L456.95 335.76 L457.97 335.76 L457.97 337.67 L459.00 337.67 L459.00 344.33 L460.02 344.33 L460.02 351.47 L461.04 351.47 L461.04 355.28 L462.07 355.28 L462.07 359.56 L463.09 359.56 L463.09 371.46 L464.12 371.46 L464.12 365.75 L465.14 365.75 L465.14 371.46 L466.16 371.46 L466.16 377.65 L467.19 377.65 L467.19 381.94 L468.21 381.94 L468.21 386.22 L469.24 386.22 L469.24 383.36 L470.26 383.36 L470.26 381.46 L471.29 381.46 L471.29 386.70 L472.31 386.70 L472.31 393.36 L473.33 393.36 L473.33 394.79 L474.36 394.79 L474.36 392.88 L475.38 392.88 L475.38 395.26 L476.41 395.26 L476.41 395.26 L477.43 395.26 L477.43 396.22 L478.46 396.22 L478.46 394.79 L479.48 394.79 L479.48 396.69 L480.50 396.69 L480.50 399.07 L481.53 399.07 L481.53 399.07 L482.55 399.07 L482.55 400.02 L483.58 400.02 L483.58 400.50 L484.60 400.50 L484.60 400.02 L485.63 400.02 L485.63 400.02 L486.65 400.02 L486.65 400.02 L487.67 400.02 L487.67 400.50 L488.70 400.50 L488.70 400.50 Z" fill="#2d70e2" fill-opacity="0.8" stroke="#2d70e2" stroke-opacity="0.5" stroke-width="0.35" stroke-linejoin="miter"/>
<path d="M419.07 400.50 L419.07 400.50 L420.12 400.50 L420.12 400.50 L421.16 400.50 L421.16 400.02 L422.20 400.02 L422.20 399.07 L423.24 399.07 L423.24 400.02 L424.28 400.02 L424.28 399.07 L425.32 399.07 L425.32 399.07 L426.36 399.07 L426.36 398.60 L427.41 398.60 L427.41 399.55 L428.45 399.55 L428.45 398.60 L429.49 398.60 L429.49 398.60 L430.53 398.60 L430.53 395.74 L431.57 395.74 L431.57 393.36 L432.61 393.36 L432.61 393.84 L433.65 393.84 L433.65 392.88 L434.70 392.88 L434.70 393.36 L435.74 393.36 L435.74 392.41 L436.78 392.41 L436.78 391.46 L437.82 391.46 L437.82 386.22 L438.86 386.22 L438.86 386.22 L439.90 386.22 L439.90 380.03 L440.95 380.03 L440.95 382.89 L441.99 382.89 L441.99 375.27 L443.03 375.27 L443.03 369.08 L444.07 369.08 L444.07 374.32 L445.11 374.32 L445.11 365.28 L446.15 365.28 L446.15 363.85 L447.19 363.85 L447.19 350.52 L448.24 350.52 L448.24 352.90 L449.28 352.90 L449.28 346.71 L450.32 346.71 L450.32 342.43 L451.36 342.43 L451.36 336.72 L452.40 336.72 L452.40 320.06 L453.44 320.06 L453.44 321.48 L454.48 321.48 L454.48 304.35 L455.53 304.35 L455.53 312.44 L456.57 312.44 L456.57 320.06 L457.61 320.06 L457.61 289.12 L458.65 289.12 L458.65 295.78 L459.69 295.78 L459.69 290.54 L460.73 290.54 L460.73 285.31 L461.77 285.31 L461.77 275.31 L462.82 275.31 L462.82 269.60 L463.86 269.60 L463.86 271.03 L464.90 271.03 L464.90 266.27 L465.94 266.27 L465.94 254.84 L466.98 254.84 L466.98 268.17 L468.02 268.17 L468.02 267.22 L469.07 267.22 L469.07 258.65 L470.11 258.65 L470.11 248.18 L471.15 248.18 L471.15 266.27 L472.19 266.27 L472.19 269.60 L473.23 269.60 L473.23 259.60 L474.27 259.60 L474.27 269.60 L475.31 269.60 L475.31 284.36 L476.36 284.36 L476.36 275.79 L477.40 275.79 L477.40 287.21 L478.44 287.21 L478.44 290.54 L479.48 290.54 L479.48 281.50 L480.52 281.50 L480.52 308.16 L481.56 308.16 L481.56 311.49 L482.60 311.49 L482.60 305.30 L483.65 305.30 L483.65 311.49 L484.69 311.49 L484.69 328.15 L485.73 328.15 L485.73 316.25 L486.77 316.25 L486.77 322.91 L487.81 322.91 L487.81 333.86 L488.85 333.86 L488.85 348.14 L489.89 348.14 L489.89 354.80 L490.94 354.80 L490.94 358.61 L491.98 358.61 L491.98 354.33 L493.02 354.33 L493.02 360.04 L494.06 360.04 L494.06 367.66 L495.10 367.66 L495.10 371.46 L496.14 371.46 L496.14 372.89 L497.19 372.89 L497.19 372.89 L498.23 372.89 L498.23 380.98 L499.27 380.98 L499.27 385.27 L500.31 385.27 L500.31 385.74 L501.35 385.74 L501.35 390.03 L502.39 390.03 L502.39 390.03 L503.43 390.03 L503.43 392.41 L504.48 392.41 L504.48 393.84 L505.52 393.84 L505.52 393.84 L506.56 393.84 L506.56 393.36 L507.60 393.36 L507.60 398.12 L508.64 398.12 L508.64 397.17 L509.68 397.17 L509.68 397.64 L510.72 397.64 L510.72 398.60 L511.77 398.60 L511.77 399.07 L512.81 399.07 L512.81 399.07 L513.85 399.07 L513.85 397.64 L514.89 397.64 L514.89 399.55 L515.93 399.55 L515.93 400.50 L516.97 400.50 L516.97 399.55 L518.01 399.55 L518.01 400.02 L519.06 400.02 L519.06 400.02 L520.10 400.02 L520.10 400.50 L521.14 400.50 L521.14 399.55 L522.18 399.55 L522.18 400.02 L523.22 400.02 L523.22 400.50 Z" fill="#eea718" fill-opacity="0.8" stroke="#eea718" stroke-opacity="0.5" stroke-width="0.35" stroke-linejoin="miter"/>
<g stroke="#b9b9b9" stroke-width="0.5" stroke-dasharray="1.1 0.7" opacity="0.3">
<line x1="383.40" x2="383.40" y1="239.5" y2="400.5"/>
<line x1="412.17" x2="412.17" y1="239.5" y2="400.5"/>
<line x1="440.94" x2="440.94" y1="239.5" y2="400.5"/>
<line x1="469.71" x2="469.71" y1="239.5" y2="400.5"/>
<line x1="498.48" x2="498.48" y1="239.5" y2="400.5"/>
<line x1="527.25" x2="527.25" y1="239.5" y2="400.5"/>
<line x1="381.5" x2="534.5" y1="400.50" y2="400.50"/>
<line x1="381.5" x2="534.5" y1="376.70" y2="376.70"/>
<line x1="381.5" x2="534.5" y1="352.90" y2="352.90"/>
<line x1="381.5" x2="534.5" y1="329.10" y2="329.10"/>
<line x1="381.5" x2="534.5" y1="305.30" y2="305.30"/>
<line x1="381.5" x2="534.5" y1="281.50" y2="281.50"/>
<line x1="381.5" x2="534.5" y1="257.70" y2="257.70"/>
</g>
<rect x="381.5" y="239.5" width="153.00" height="161.00" fill="none" stroke="#2e2a2a" stroke-width="0.85"/>
<g stroke="#2a2626" stroke-width="0.8">
<line x1="383.40" x2="383.40" y1="400.5" y2="402.3"/>
<line x1="412.17" x2="412.17" y1="400.5" y2="402.3"/>
<line x1="440.94" x2="440.94" y1="400.5" y2="402.3"/>
<line x1="469.71" x2="469.71" y1="400.5" y2="402.3"/>
<line x1="498.48" x2="498.48" y1="400.5" y2="402.3"/>
<line x1="527.25" x2="527.25" y1="400.5" y2="402.3"/>
<line x1="379.7" x2="381.5" y1="400.50" y2="400.50"/>
<line x1="379.7" x2="381.5" y1="376.70" y2="376.70"/>
<line x1="379.7" x2="381.5" y1="352.90" y2="352.90"/>
<line x1="379.7" x2="381.5" y1="329.10" y2="329.10"/>
<line x1="379.7" x2="381.5" y1="305.30" y2="305.30"/>
<line x1="379.7" x2="381.5" y1="281.50" y2="281.50"/>
<line x1="379.7" x2="381.5" y1="257.70" y2="257.70"/>
</g>
<g class="tk">
<text transform="translate(383.40 408.70) scale(0.8 1)" text-anchor="middle">90</text>
<text transform="translate(412.17 408.70) scale(0.8 1)" text-anchor="middle">95</text>
<text transform="translate(440.94 408.70) scale(0.8 1)" text-anchor="middle">100</text>
<text transform="translate(469.71 408.70) scale(0.8 1)" text-anchor="middle">105</text>
<text transform="translate(498.48 408.70) scale(0.8 1)" text-anchor="middle">110</text>
<text transform="translate(527.25 408.70) scale(0.8 1)" text-anchor="middle">115</text>
<text transform="translate(377.70 402.80) scale(0.8 1)" text-anchor="end">0</text>
<text transform="translate(377.70 379.00) scale(0.8 1)" text-anchor="end">50</text>
<text transform="translate(377.70 355.20) scale(0.8 1)" text-anchor="end">100</text>
<text transform="translate(377.70 331.40) scale(0.8 1)" text-anchor="end">150</text>
<text transform="translate(377.70 307.60) scale(0.8 1)" text-anchor="end">200</text>
<text transform="translate(377.70 283.80) scale(0.8 1)" text-anchor="end">250</text>
<text transform="translate(377.70 260.00) scale(0.8 1)" text-anchor="end">300</text>
</g>
<rect x="468.4" y="242.0" width="63.6" height="17.0" rx="1" fill="#f5f9f1" fill-opacity="0.85" stroke="#c6c6c6" stroke-width="0.5"/>
<rect x="470.30" y="244.70" width="10.2" height="3.4" fill="#2468e0" fill-opacity="0.93"/>
<rect x="470.30" y="252.70" width="10.2" height="3.4" fill="#eba313" fill-opacity="0.93"/>
<text class="lg" transform="translate(485.00 248.65) scale(0.885 1)">Reference Group</text>
<text class="lg" transform="translate(485.00 256.55) scale(0.885 1)">Test Group</text>
<text class="ti" x="450.9" y="235.7" text-anchor="middle" textLength="50" lengthAdjust="spacingAndGlyphs">Generated</text>
<text class="xl" x="457.5" y="416" text-anchor="middle" textLength="55.6" lengthAdjust="spacingAndGlyphs">Endpoint value</text>
</g>
</svg></body></html>
